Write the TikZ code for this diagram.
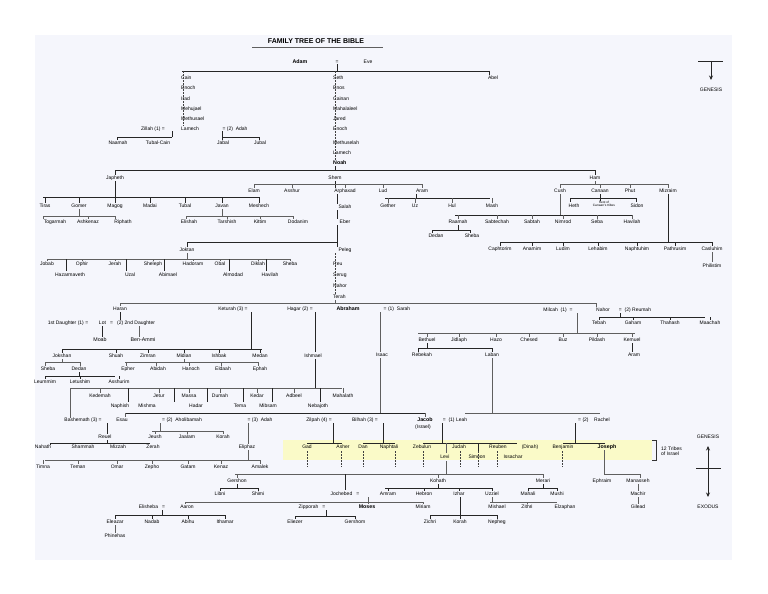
\documentclass[tikz,border=0pt]{standalone}
\usepackage{fontspec}
\setmainfont{Liberation Sans}
\usetikzlibrary{arrows.meta,decorations.pathreplacing}
\definecolor{panel}{RGB}{245,246,252}
\definecolor{band}{RGB}{250,250,200}
\definecolor{ln}{RGB}{95,95,95}
\begin{document}
\begin{tikzpicture}[x=1pt,y=-1pt,
 t/.style={inner sep=0pt,font=\fontsize{5}{5.4}\selectfont},
 tb/.style={t,font=\fontsize{5.3}{5.8}\selectfont\bfseries},
 tl/.style={t,anchor=west},
 br/.style={draw=ln,line width=0.75pt},
 bk/.style={draw=black!85,line width=0.85pt},
 dsh/.style={draw=black!75,line width=0.65pt,dash pattern=on 1.5pt off 1.5pt},
 arr/.style={-{Stealth[length=4.5pt,width=4pt]}}]
\useasboundingbox (0,0) rectangle (768,594);
\fill[white] (0,0) rectangle (768,594);
\fill[panel] (35,35) rectangle (732,560);
\fill[band] (283,440) rectangle (652,460);
% title
\node[t,font=\fontsize{7}{8}\selectfont\bfseries] (title) at (316,41) {FAMILY TREE OF THE BIBLE};
\draw[ln,line width=0.9pt] (252,47) -- (383,47);
% right legends
\node[t] (gen1) at (711,90) {GENESIS};
\coordinate (g1a) at (698,61); \coordinate (g1b) at (723,61); \coordinate (g1c) at (711,61); \coordinate (g1d) at (711,80);
\draw[black!85,line width=0.8pt] (g1a) -- (g1b); \draw[black!85,line width=0.8pt,arr] (g1c) -- (g1d);
\node[t] (gen2) at (708,437) {GENESIS};
\node[t] (exo) at (708,507) {EXODUS};
\coordinate (x1) at (708,446); \coordinate (x2) at (708,497); \coordinate (x3) at (696,468); \coordinate (x4) at (721,468);
\draw[black!85,line width=0.8pt,{Stealth[length=4.5pt,width=4pt]}-{Stealth[length=4.5pt,width=4pt]}] (x1) -- (x2);
\draw[black!85,line width=0.8pt] (x3) -- (x4);
\draw[black!80,line width=0.6pt] (652,440) -- (656,440) -- (656,460) -- (652,460);
\node[t,align=left,anchor=west] (tribes) at (661,451) {12 Tribes\\of Israel};
% Adam
\node[tb] (adam) at (300,62) {Adam};
\node[t] (eqa) at (337,62) {=};
\node[t] (eve) at (368,62) {Eve};
\draw[bk] (182,71) -- (489,71); \draw[bk] (337,64) -- (337,71); \draw[bk] (489,71)--(489,75);
\node[t] (abel) at (493,78) {Abel};
\foreach \n/\y/\s in {cain/78/Cain,enoch/88/Enoch,irad/99/Irad,mehujael/109/Mehujael,methusael/119/Methusael,lamechc/129/Lamech}
  \node[tl] (\n) at (181,\y) {\s};
\draw[dsh] (183,71) -- (183,126);
\foreach \n/\y/\s in {seth/78/Seth,enos/88/Enos,cainan/99/Cainan,mahalaleel/109/Mahalaleel,jared/119/Jared,enochs/129/Enoch,methuselah/143/Methuselah,lamechs/153/Lamech}
  \node[tl] (\n) at (333,\y) {\s};
\node[tb,anchor=west] (noah) at (333,163) {Noah};
\draw[dsh] (335,71) -- (335,160);
\node[t] (zillah) at (153,129) {Zillah (1) =};
\node[t] (adah1) at (235,129) {= (2)\ \ Adah};
\draw[bk] (172,131)--(172,137); \draw[bk] (117,137)--(172,137); \draw[bk] (117,137)--(117,140);
\node[t] (naamah) at (118,143) {Naamah}; \node[t] (tubal) at (158,143) {Tubal-Cain};
\draw[bk] (222,131)--(222,140); \draw[bk] (222,137)--(259,137)--(259,140);
\node[t] (jabal) at (223,143) {Jabal}; \node[t] (jubal) at (260,143) {Jubal};
% Noah's sons
\draw[bk] (335,166)--(335,170); \draw[bk] (115,170)--(595,170); \draw[bk] (115,170)--(115,175); \draw[bk] (595,170)--(595,175);
\node[t] (japheth) at (115,178) {Japheth}; \node[t] (shem) at (335,178) {Shem}; \node[t] (ham) at (595,178) {Ham};
% Japheth
\draw[bk] (115,181)--(115,197); \draw[bk] (43,197)--(259,197);
\foreach \n/\x/\s in {tiras/45/Tiras,gomer/79/Gomer,magog/115/Magog,madai/150/Madai,tubal/185/Tubal,javan/222/Javan,meshech/259/Meshech}
 {\node[t] (\n) at (\x,206) {\s}; \draw[bk] (\x,197)--(\x,203);}
\draw[br] (79,209)--(79,216); \draw[br] (43,216)--(115,216);
\foreach \n/\x/\s in {togarmah/55/Togarmah,ashkenaz/88/Ashkenaz,riphath/123/Riphath}
 {\node[t] (\n) at (\x,222) {\s};}
\draw[br](43,216)--(43,219);\draw[br](88,216)--(88,219);\draw[br](115,216)--(115,219);
\draw[br] (222,209)--(222,216); \draw[br] (186,216)--(293,216);
\foreach \n/\x/\s in {elishah/189/Elishah,tarshish/227/Tarshish,kittim/260/Kittim,dodanim/298/Dodanim}
 {\node[t] (\n) at (\x,222) {\s}; }
\foreach \x in {186,227,260,293} \draw[br] (\x,216)--(\x,219);
% Shem
\draw[bk] (335,181)--(335,188); \draw[br] (254,184)--(422,184);
\foreach \n/\x/\s in {elam/254/Elam,asshur/292/Asshur,arphaxad/345/Arphaxad,lud/383/Lud,aram/422/Aram}
 {\node[t] (\n) at (\x,191) {\s}; \draw[br] (\x,184)--(\x,188);}
\node[t] (salah) at (345,207) {Salah}; \node[t] (eber) at (345,222) {Eber};
\draw[bk] (337,194)--(337,204); \draw[bk] (337,210)--(337,219); \draw[bk] (337,225)--(337,247);
\draw[bk] (187,242)--(337,242); \draw[bk] (187,242)--(187,247);
\node[t] (joktan) at (187,250) {Joktan}; \node[t] (peleg) at (345,250) {Peleg};
\draw[bk] (385,198)--(490,198); \draw[bk] (416,194)--(416,198);
\foreach \n/\x/\s in {gether/388/Gether,uz/415/Uz,hul/452/Hul,mash/492/Mash}
 {\node[t] (\n) at (\x,206) {\s}; \draw[br] (\x,198)--(\x,203);}
\draw[br] (47,259)--(290,259); \draw[br] (187,253)--(187,259);
\foreach \n/\x/\s in {jobab/47/Jobab,ophir/82/Ophir,jerah/115/Jerah,sheleph/153/Sheleph,hadoram/193/Hadoram,obal/220/Obal,diklah/258/Diklah,sheba/290/Sheba}
 {\node[t] (\n) at (\x,264) {\s}; \draw[br] (\x,259)--(\x,261);}
\foreach \n/\x/\s in {hazarmaveth/70/Hazarmaveth,uzal/130/Uzal,abimael/168/Abimael,almodad/233/Almodad,havilahj/270/Havilah}
 {\node[t] (\n) at (\x,275) {\s}; \draw[bk] (\x-4,259)--(\x-4,271);}
\foreach \n/\y/\s in {reu/264/Reu,serug/275/Serug,nahor1/286/Nahor,terah/297/Terah}
 \node[tl] (\n) at (333,\y) {\s};
\draw[dsh] (335,253)--(335,294);
% Ham
\draw[br] (595,181)--(595,184); \draw[br] (560,184)--(668,184);
\foreach \n/\x/\s in {cush/560/Cush,canaan/600/Canaan,phut/630/Phut,mizraim/668/Mizraim}
 {\node[t] (\n) at (\x,191) {\s}; \draw[br] (\x,184)--(\x,188);}
\draw[bk] (570,198)--(636,198); \draw[bk] (600,194)--(600,201);
\node[t] (heth) at (574,206) {Heth}; \node[t] (sidon) at (637,206) {Sidon};
\node[t,font=\fontsize{3.2}{3.4}\selectfont,align=center] (rest) at (604,204) {Rest of\\Canaan's tribes};
\draw[bk](570,198)--(570,202); \draw[bk](636,198)--(636,202);
\draw[br] (560,194)--(560,215); \draw[bk] (455,215)--(632,215);
\foreach \n/\x/\s in {raamah/458/Raamah,sabtechah/497/Sabtechah,sabtah/532/Sabtah,nimrod/563/Nimrod,seba/597/Seba,havilahc/632/Havilah}
 {\node[t] (\n) at (\x,222) {\s}; \draw[br] (\x,215)--(\x,219);}
\draw[bk] (458,225)--(458,230); \draw[bk] (432,230)--(470,230);
\node[t] (dedan1) at (436,236) {Dedan}; \node[t] (sheba2) at (472,236) {Sheba};
\draw[bk](432,230)--(432,233); \draw[bk](470,230)--(470,233);
\draw[bk] (668,194)--(668,242); \draw[bk] (500,242)--(712,242);
\foreach \n/\x/\s in {caphtorim/500/Caphtorim,anamim/532/Anamim,ludim/563/Ludim,lehabim/598/Lehabim,naphtuhim/637/Naphtuhim,pathrusim/675/Pathrusim,casluhim/712/Casluhim}
 {\node[t] (\n) at (\x,249) {\s}; \draw[bk] (\x,242)--(\x,246);}
\node[t] (philistim) at (712,266) {Philistim}; \draw[br] (712,252)--(712,262);
% Terah
\draw[br] (335,300)--(335,303); \draw[br] (120,303)--(596,303);
\draw[br] (120,303)--(120,306); \draw[br] (596,303)--(596,307);
\node[t] (haran) at (120,309) {Haran};
\node[t] (keturah) at (233,309) {Keturah (3) =};
\node[t] (hagar) at (300,309) {Hagar (2) =};
\node[tb] (abraham) at (348,309) {Abraham};
\node[t] (sarah) at (397,309) {= (1)\ \ Sarah};
\node[t] (milcah) at (558,310) {Milcah\ \ (1) \ =};
\node[t] (nahor) at (603,310) {Nahor};
\node[t] (reumah) at (635,310) {= \ (2) Reumah};
% Lot
\draw[bk] (120,312)--(120,320);
\node[t] (dau1) at (68,323) {1st Daughter (1) =};
\node[t] (lot) at (127,323) {Lot\ \ \ =\ \ \ (2) 2nd Daughter};
\draw[bk] (102,326)--(102,337); \node[t,font=\fontsize{5.3}{5.5}\selectfont] (moab) at (100,340) {Moab};
\draw[br] (139,326)--(139,337); \node[t,font=\fontsize{5.3}{5.5}\selectfont] (benammi) at (143,340) {Ben-Ammi};
% Keturah
\draw[bk] (251,312)--(251,349); \draw[bk] (62,349)--(262,349);
\foreach \n/\x/\s in {jokshan/62/Jokshan,shuah/116/Shuah,zimran/148/Zimran,midian/184/Midian,ishbak/219/Ishbak,medan/260/Medan}
 {\node[t] (\n) at (\x,356) {\s}; \draw[bk] (\x,349)--(\x,353);}
\draw[br] (62,359)--(62,362); \draw[br] (45,362)--(80,362);
\node[t] (shebak) at (48,369) {Sheba}; \node[t] (dedank) at (79,369) {Dedan};
\draw[br](45,362)--(45,366); \draw[br](80,362)--(80,366);
\draw[bk] (79,372)--(79,376); \draw[bk] (45,376)--(115,376);
\foreach \n/\x/\s in {leummim/45/Leummim,letushim/80/Letushim,asshurim/119/Asshurim}
 {\node[t] (\n) at (\x,382) {\s}; \draw[bk] (\x,376)--(\x,379);}
\draw[br] (184,359)--(184,362); \draw[br] (125,362)--(258,362);
\foreach \n/\x/\s in {epher/128/Epher,abidah/158/Abidah,hanoch/191/Hanoch,eldaah/223/Eldaah,ephah/260/Ephah}
 {\node[t] (\n) at (\x,369) {\s}; \draw[br] (\x-2,362)--(\x-2,366);}
% Hagar
\draw[bk] (315,312)--(315,352); \node[t] (ishmael) at (313,356) {Ishmael};
\draw[bk] (315,359)--(315,388); \draw[br] (70,388)--(342,388);
\draw[br] (70,388)--(70,418);
\foreach \n/\x/\s in {kedemah/100/Kedemah,jetur/159/Jetur,massa/189/Massa,dumah/220/Dumah,kedar/257/Kedar,adbeel/294/Adbeel,mahalath/343/Mahalath}
 {\node[t] (\n) at (\x,396) {\s}; \draw[br] (\x,388)--(\x,393);}
\foreach \n/\x/\s in {naphish/120/Naphish,mishma/147/Mishma,hadar/196/Hadar,tema/240/Tema,mibsam/268/Mibsam,nebajoth/318/Nebajoth}
 {\node[t] (\n) at (\x,406) {\s};}
\foreach \x in {128,174,207,243,272,320} \draw[bk] (\x,388)--(\x,402);
% Sarah / Isaac
\draw[br] (380,312)--(380,352); \node[t] (isaac) at (382,355) {Isaac};
\draw[br] (380,358)--(380,413); \draw[bk] (125,413)--(425,413);
% Milcah / Reumah
\draw[bk] (620,313)--(620,317); \draw[bk] (599,317)--(705,317);
\foreach \n/\x/\s in {tebah/599/Tebah,gaham/633/Gaham,thahash/670/Thahash,maachah/710/Maachah}
 {\node[t] (\n) at (\x,323) {\s}; \draw[bk] (\x,317)--(\x,320);}
\draw[br] (577,313)--(577,333); \draw[br] (418,333)--(635,333);
\foreach \n/\x/\s in {bethuel/427/Bethuel,jidlaph/459/Jidlaph,hazo/496/Hazo,chesed/529/Chesed,buz/563/Buz,pildash/597/Pildash,kemuel/632/Kemuel}
 {\node[t] (\n) at (\x,340) {\s}; \draw[br] (\x,333)--(\x,337);}
\draw[bk] (632,343)--(632,352); \node[t] (aramk) at (634,355) {Aram};
\draw[bk] (427,343)--(427,348); \draw[bk] (418,348)--(492,348);
\node[t] (rebekah) at (422,355) {Rebekah}; \node[t] (laban) at (492,355) {Laban};
\draw[bk](418,348)--(418,352); \draw[bk](492,348)--(492,352);
\draw[br] (492,358)--(492,413); \draw[br] (465,413)--(600,413);
% Esau / Jacob row
\draw[br] (125,413)--(125,417); \draw[br] (425,413)--(425,417);
\node[t] (bashemath) at (83,420) {Bashemath (3) =};
\node[t] (esau) at (122,420) {Esau};
\node[t] (aholibamah) at (182,420) {= (2)\ \ Aholibamah};
\node[t] (adah3) at (260,420) {= (3)\ \ Adah};
\node[t] (zilpah) at (319,420) {Zilpah (4) =};
\node[t] (bilhah) at (365,420) {Bilhah (3) =};
\node[tb] (jacob) at (425,420) {Jacob};
\node[t] (israel) at (423,427) {(Israel)};
\node[t] (leah) at (455,420) {=\ \ (1) Leah};
\node[t] (rachel) at (594,420) {= (2)\ \ \ \ Rachel};
\draw[bk] (107,423)--(107,434); \node[t] (reuel) at (105,437) {Reuel};
\draw[bk] (107,440)--(107,443); \draw[bk] (50,443)--(150,443);
\foreach \n/\x/\s in {nahath/43/Nahath,shammah/83/Shammah,mizzah/118/Mizzah,zerah/153/Zerah}
 {\node[t] (\n) at (\x,447) {\s};}
\draw[bk](50,443)--(50,445);
\draw[br] (160,423)--(160,431); \draw[br] (152,431)--(223,431);
\foreach \n/\x/\s in {jeush/155/Jeush,jaalam/187/Jaalam,korahe/223/Korah}
 {\node[t] (\n) at (\x,437) {\s}; \draw[br] (\x,431)--(\x,434);}
\draw[br] (248,423)--(248,444); \node[t] (eliphaz) at (247,447) {Eliphaz};
\draw[br] (248,450)--(248,460); \draw[br] (45,460)--(260,460);
\foreach \n/\x/\s in {timna/43/Timna,teman/78/Teman,omar/117/Omar,zepho/152/Zepho,gatam/188/Gatam,kenaz/221/Kenaz,amalek/260/Amalek}
 {\node[t] (\n) at (\x,467) {\s}; \draw[br] (\x,460)--(\x,464);}
% tribes
\draw[bk] (333,423)--(333,443); \draw[bk] (307,443)--(342,443);
\draw[bk] (383,423)--(383,443); \draw[bk] (363,443)--(395,443);
\draw[bk] (442,423)--(442,443); \draw[bk] (423,443)--(517,443);
\draw[bk] (575,423)--(575,443); \draw[bk] (563,443)--(605,443);
\foreach \n/\x/\s in {gad/307/Gad,asher/343/Asher,dan/363/Dan,naphtali/389/Naphtali,zebulun/422/Zebulun,judah/459/Judah,reuben/498/Reuben,dinah/530/(Dinah),benjamin/563/Benjamin}
 \node[t] (\n) at (\x,447) {\s};
\node[tb] (joseph) at (607,447) {Joseph};
\node[t] (levi) at (445,457) {Levi}; \node[t] (simeon) at (477,457) {Simeon}; \node[t] (issachar) at (513,457) {Issachar};
\draw[br] (446,443)--(446,453); \draw[bk] (478,443)--(478,453);
\foreach \x in {307,341,363,395,423,460,478,497,562} \draw[dsh] (\x,451)--(\x,467);
% Levi
\draw[br] (446,461)--(446,474); \draw[br] (235,474)--(543,474);
\node[t] (gershon) at (237,481) {Gershon}; \node[t] (kohath) at (438,481) {Kohath}; \node[t] (merari) at (543,481) {Merari};
\draw[br] (237,474)--(237,478); \draw[br] (438,474)--(438,478); \draw[br] (543,474)--(543,478);
\draw[bk] (237,484)--(237,488); \draw[bk] (220,488)--(258,488);
\node[t] (libni) at (220,494) {Libni}; \node[t] (shimi) at (258,494) {Shimi};
\draw[bk](220,488)--(220,491); \draw[bk](258,488)--(258,491);
\draw[bk] (345,474)--(345,490); \node[t] (jochebed) at (345,494) {Jochebed\ \ \ =};
\draw[bk] (438,484)--(438,488); \draw[bk] (385,488)--(492,488);
\foreach \n/\x/\s in {amram/388/Amram,hebron/424/Hebron,izhar/459/Izhar,uzziel/492/Uzziel}
 {\node[t] (\n) at (\x,494) {\s}; \draw[bk] (\x,488)--(\x,491);}
\draw[br] (368,497)--(368,502); \draw[br] (185,502)--(423,502);
\node[t] (elisheba) at (152,507) {Elisheba\ \ \ =}; \node[t] (aaron) at (187,507) {Aaron};
\node[t] (zipporah) at (312,507) {Zipporah\ \ \ =}; \node[tb] (moses) at (367,507) {Moses};
\node[t] (miriam) at (423,507) {Miriam};
\draw[br](185,502)--(185,504); \draw[br](368,502)--(368,504); \draw[br](423,502)--(423,504);
\draw[bk] (162,510)--(162,515); \draw[bk] (115,515)--(225,515);
\foreach \n/\x/\s in {eleazar/115/Eleazar,nadab/152/Nadab,abihu/188/Abihu,ithamar/225/Ithamar}
 {\node[t] (\n) at (\x,522) {\s}; \draw[bk] (\x,515)--(\x,519);}
\draw[br] (115,525)--(115,533); \node[t] (phinehas) at (115,536) {Phinehas};
\draw[bk] (326,510)--(326,516); \draw[bk] (295,516)--(355,516);
\node[t] (eliezer) at (295,522) {Eliezer}; \node[t] (gershom) at (355,522) {Gershom};
\draw[bk](295,516)--(295,519); \draw[bk](355,516)--(355,519);
\draw[bk] (460,497)--(460,515); \draw[bk] (430,515)--(497,515);
\foreach \n/\x/\s in {zichri/430/Zichri,korah/460/Korah,nepheg/497/Nepheg}
 {\node[t] (\n) at (\x,522) {\s}; \draw[bk] (\x,515)--(\x,519);}
\draw[br] (492,497)--(492,502); \draw[br] (490,502)--(557,502);
\foreach \n/\x/\s in {mishael/497/Mishael,zithri/527/Zithri,elzaphan/565/Elzaphan}
 {\node[t] (\n) at (\x,507) {\s};}
\draw[br](527,502)--(527,504);
\draw[bk] (543,484)--(543,488); \draw[bk] (528,488)--(557,488);
\node[t] (mahali) at (528,494) {Mahali}; \node[t] (mushi) at (557,494) {Mushi};
\draw[bk](528,488)--(528,491); \draw[bk](557,488)--(557,491);
% Joseph
\draw[br] (604,450)--(604,474); \draw[br] (604,474)--(640,474)--(640,478);
\node[t] (ephraim) at (602,481) {Ephraim}; \node[t] (manasseh) at (638,481) {Manasseh};
\node[t] (machir) at (638,494) {Machir}; \node[t] (gilead) at (638,507) {Gilead};
\draw[br] (638,484)--(638,491); \draw[br] (638,497)--(638,504);
\end{tikzpicture}
\end{document}
